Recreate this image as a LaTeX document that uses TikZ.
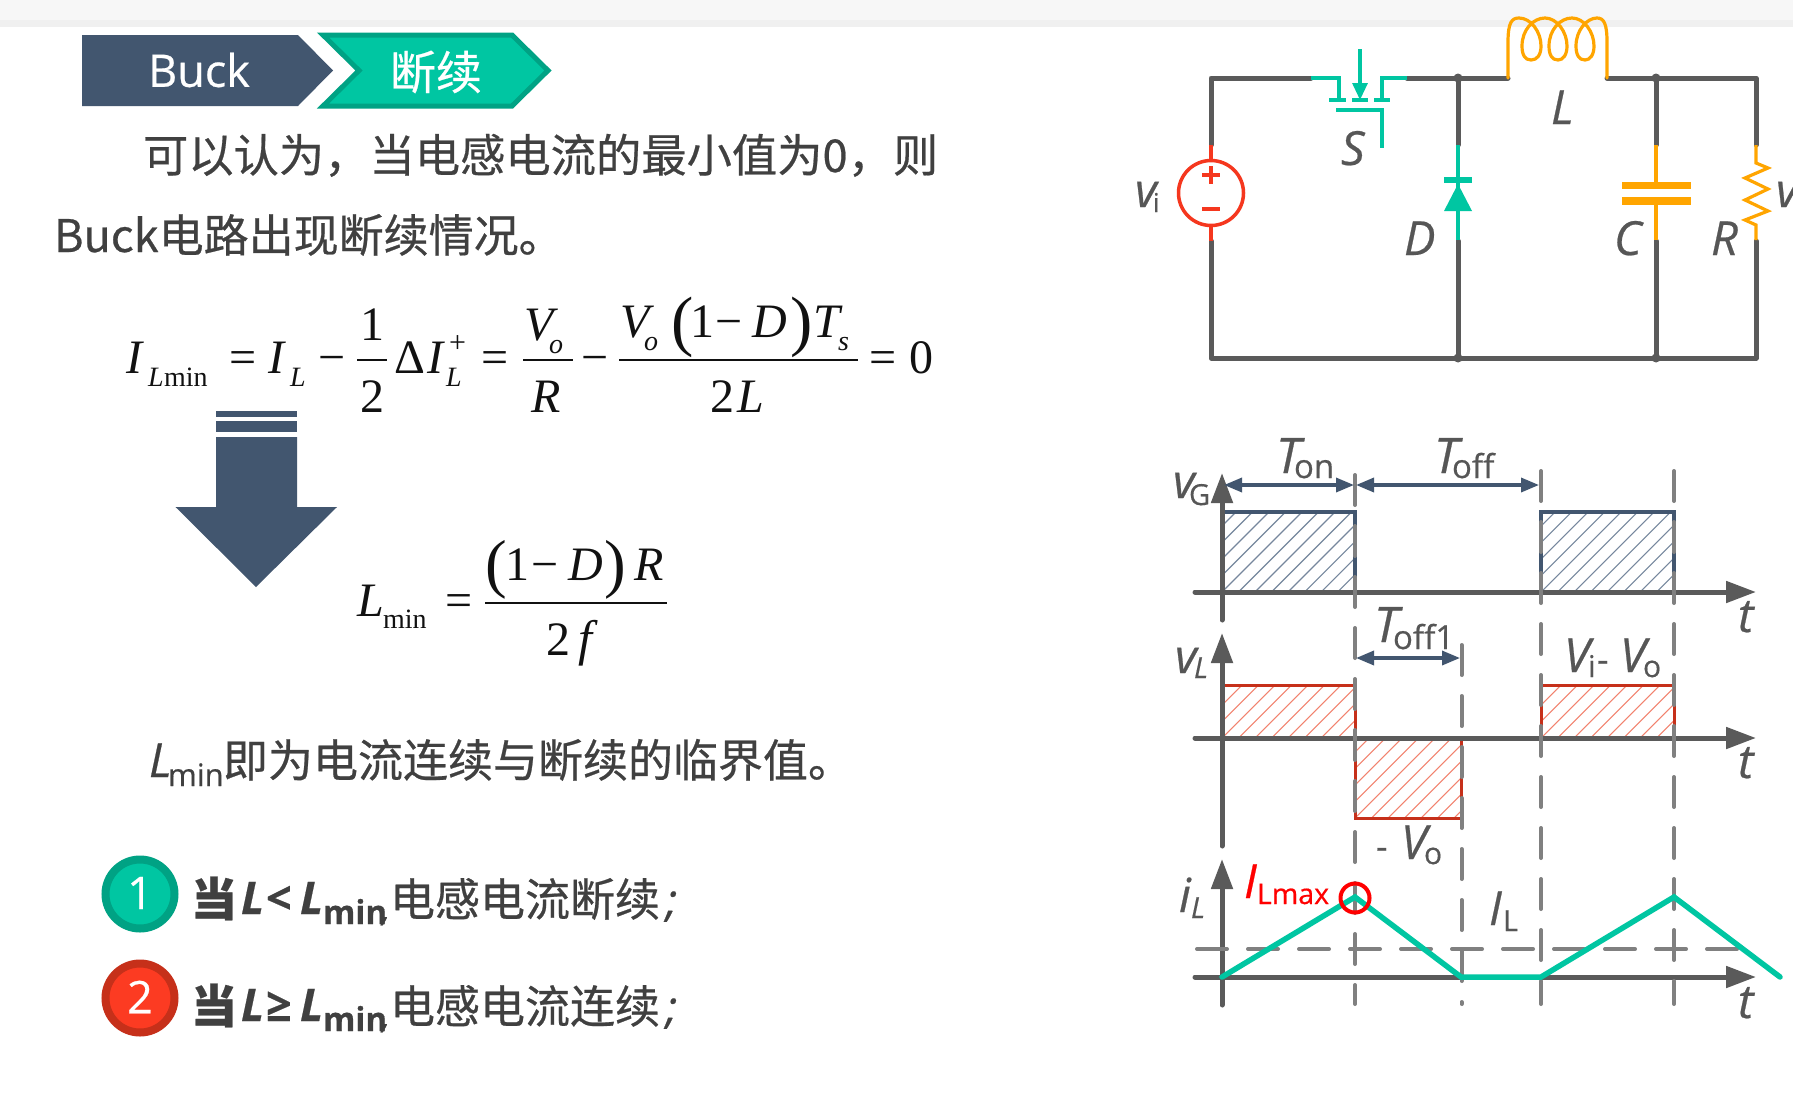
\documentclass[tikz,border=0pt]{standalone}
\usepackage{fontspec}
\usetikzlibrary{arrows.meta}
\setmainfont{Open Sans}
\newfontfamily\tms{Liberation Serif}
\newfontfamily\ltn[FakeBold=0.5]{Open Sans}
\newfontfamily\cjk[FakeBold=0.5]{Noto Sans CJK SC}
\newcommand\FS[1]{\fontsize{#1}{#1}\selectfont}
\newcommand\FT[1]{\tms\FS{#1}\color{ink}}
\newcommand\FTi[1]{\tms\itshape\FS{#1}\color{ink}}
\newcommand\FL[1]{\ltn\FS{#1}\color{lab}}
\newcommand\FLi[1]{\ltn\itshape\FS{#1}\color{lab}}
\newcommand\FC[1]{\cjk\FS{#1}\color{body}}
\newcommand\FB[1]{\ltn\bfseries\itshape\FS{#1}\color{body}}
\newcommand\TX[5]{\node[lbl] (#1) at (#2,#3) {#4 #5};}
\newcommand\HB[5]{%
  \begin{scope}
    \clip (#1,#2) rectangle (#3,#4);
    \foreach \k in {-12,...,14} {
      \draw[#5,line width=1.1pt] ({#1+16.5*\k},#4) -- ++(120,-120);
    }
  \end{scope}}
\definecolor{ink}{HTML}{111111}
\definecolor{lab}{HTML}{565656}
\definecolor{body}{HTML}{404040}
\definecolor{navy}{HTML}{42566F}
\definecolor{navyh}{HTML}{76879D}
\definecolor{tealc}{HTML}{00C6A2}
\definecolor{tealD}{HTML}{00A284}
\definecolor{wirec}{HTML}{5A5A5A}
\definecolor{gridc}{HTML}{808080}
\definecolor{srcred}{HTML}{F5371E}
\definecolor{redD}{HTML}{C6301A}
\definecolor{redB}{HTML}{FC3B22}
\definecolor{redh}{HTML}{F2826E}
\definecolor{org}{HTML}{FFA500}
\tikzset{
  lbl/.style={anchor=base west,inner sep=0pt,outer sep=0pt},
  gw/.style={wirec,line width=5pt,line cap=round,line join=round},
  tw/.style={tealc,line width=3.2pt},
  ow/.style={org,line width=3.2pt},
  rw/.style={srcred,line width=3.5pt},
  axisline/.style={wirec,line width=5pt,line cap=round,-{Triangle[length=30pt,width=21pt]}},
  spanline/.style={navy,line width=3.4pt,{Triangle[length=18pt,width=14pt]}-{Triangle[length=18pt,width=14pt]}},
  gridline/.style={gridc,line width=4pt,line cap=round,dash pattern=on 30pt off 21pt},
  jdot/.style={fill=wirec,draw=none},
}
\begin{document}
\begin{tikzpicture}[x=1pt,y=-1pt]
\useasboundingbox (0,0) rectangle (1793,1106);
\clip (0,0) rectangle (1793,1106);
\fill[white] (0,0) rectangle (1793,1106);
% window strip
\fill[black!3] (0,0) rectangle (1793,20);
\fill[black!6] (0,20) rectangle (1793,27);
% tags
\fill[navy] (82,35) -- (298,35) -- (333,70.5) -- (298,106) -- (82,106) -- cycle;
\draw[tealD,fill=tealc,line width=5pt,miter limit=10] (323,35) -- (512,35) -- (548,70.5) -- (512,106) -- (323,106) -- (359,70.5) -- cycle;
\node[inner sep=0pt,text=white,font=\ltn\FS{45}] (buck) at (199,70) {Buck};
\node[inner sep=0pt,text=white,font=\cjk\FS{46}] (dx) at (436,72) {断续};
% paragraph
\TX{p1}{143}{172}{\FC{45.3}}{可以认为，当电感电流的最小值为0，则}
\TX{p2}{54}{252}{\FC{45}}{Buck电路出现断续情况。}
% formula 1
\TX{a1}{126}{373}{\FTi{48}}{I}
\TX{a2}{148}{386}{\FTi{28}}{L}
\TX{a3}{164}{386}{\FT{28}}{min}
\TX{a4}{229}{373}{\FT{48}}{=}
\TX{a5}{268}{373}{\FTi{48}}{I}
\TX{a6}{290}{386}{\FTi{28}}{L}
\TX{a7}{318}{373}{\FT{48}}{−}
\TX{a8}{360}{340}{\FT{48}}{1}
\TX{a9}{360}{412}{\FT{48}}{2}
\TX{a10}{394}{373}{\FT{48}}{Δ}
\TX{a11}{427}{373}{\FTi{48}}{I}
\TX{a12}{449}{352}{\FT{30}}{+}
\TX{a13}{446}{386}{\FTi{28}}{L}
\TX{a14}{481}{373}{\FT{48}}{=}
\TX{a15}{524}{340}{\FTi{48}}{V}
\TX{a16}{549}{353}{\FTi{28}}{o}
\TX{a17}{531}{412}{\FTi{48}}{R}
\TX{a18}{581}{373}{\FT{48}}{−}
\TX{a19}{620}{337}{\FTi{48}}{V}
\TX{a20}{644}{350}{\FTi{28}}{o}
\TX{a21}{671}{343}{\FT{67}}{(}
\TX{a22}{690}{337}{\FT{48}}{1}
\TX{a23}{715}{337}{\FT{48}}{−}
\TX{a24}{752}{337}{\FTi{48}}{D}
\TX{a25}{790}{343}{\FT{67}}{)}
\TX{a26}{813}{337}{\FTi{48}}{T}
\TX{a27}{838}{350}{\FTi{28}}{s}
\TX{a28}{710}{412}{\FT{48}}{2}
\TX{a29}{737}{412}{\FTi{48}}{L}
\TX{a30}{869}{373}{\FT{48}}{=}
\TX{a31}{909}{373}{\FT{48}}{0}
\draw[ink,line width=2pt] (357,360) -- (387,360);
\draw[ink,line width=2pt] (523,360) -- (573,360);
\draw[ink,line width=2pt] (619,360) -- (858,360);
% arrow
\fill[navy] (216,411) rectangle (297,417);
\fill[navy] (216,421) rectangle (297,432);
\fill[navy] (216,437) -- (297,437) -- (297,507) -- (337,507) -- (256,587) -- (175.5,507) -- (216,507) -- cycle;
% formula 2
\TX{b1}{357}{616}{\FTi{48}}{L}
\TX{b2}{383}{628}{\FT{28}}{min}
\TX{b3}{445}{616}{\FT{48}}{=}
\TX{b4}{485}{585}{\FT{65}}{(}
\TX{b5}{505}{580}{\FT{48}}{1}
\TX{b6}{531}{580}{\FT{48}}{−}
\TX{b7}{568}{580}{\FTi{48}}{D}
\TX{b8}{604}{585}{\FT{65}}{)}
\TX{b9}{634}{580}{\FTi{48}}{R}
\TX{b10}{546}{655}{\FT{48}}{2}
\TX{b11}{578}{655}{\FTi{50}}{f}
\draw[ink,line width=2pt] (485,603) -- (667,603);
% Lmin sentence
\TX{c1}{149}{777}{\FLi{47}\color{body}}{L}
\TX{c2}{168}{786}{\FL{31}\color{body}}{min}
\TX{c3}{223}{777}{\FC{45}}{即为电流连续与断续的临界值。}
% bullets
\filldraw[tealD,fill=tealc,line width=8pt] (140,894) circle (34.5);
\node[inner sep=0pt,text=white,font=\ltn\FS{45}] (n1) at (140,893) {1};
\filldraw[redD,fill=redB,line width=8pt] (140,998) circle (34.5);
\node[inner sep=0pt,text=white,font=\ltn\FS{45}] (n2) at (140,997) {2};
\TX{d1}{191}{916}{\cjk\bfseries\FS{46}\color{body}}{当}
\TX{d2}{241}{914}{\FB{45}}{L}
\TX{d3}{266}{914}{\FB{45}}{\upshape<}
\TX{d4}{300}{914}{\FB{45}}{L}
\TX{d5}{323}{924}{\ltn\bfseries\FS{33}\color{body}}{min}
\TX{d6}{382}{921}{\FLi{33}\color{body}}{,}
\TX{d7}{390}{916}{\FC{45}}{电感电流断续}
\TX{d8}{666}{916}{\FLi{45}\color{body}}{;}
\TX{e1}{191}{1023}{\cjk\bfseries\FS{46}\color{body}}{当}
\TX{e2}{241}{1021}{\FB{45}}{L}
\TX{e3}{266}{1021}{\FB{45}}{\upshape≥}
\TX{e4}{300}{1021}{\FB{45}}{L}
\TX{e5}{323}{1031}{\ltn\bfseries\FS{33}\color{body}}{min}
\TX{e6}{382}{1028}{\FLi{33}\color{body}}{,}
\TX{e7}{390}{1023}{\FC{45}}{电感电流连续}
\TX{e8}{666}{1023}{\FLi{45}\color{body}}{;}
% ---------- circuit
\coordinate (TL) at (1211,78); \coordinate (BL) at (1211,358);
\coordinate (TR) at (1756,78); \coordinate (BR) at (1756,358);
\coordinate (TD) at (1458,78); \coordinate (BD) at (1458,358);
\coordinate (TC) at (1656,78); \coordinate (BC) at (1656,358);
\coordinate (sw1) at (1311,78); \coordinate (sw2) at (1407,78);
\coordinate (in1) at (1508,78); \coordinate (in2) at (1607,78);
\draw[gw] (1211,145) -- (TL) -- (sw1);
\draw[gw] (sw2) -- (in1);
\draw[gw] (in2) -- (TR) -- (1756,145);
\draw[gw] (1211,241) -- (BL) -- (BR) -- (1756,241);
\draw[gw] (TD) -- (1458,145);
\draw[gw] (1458,241) -- (BD);
\draw[gw] (TC) -- (1656,145);
\draw[gw] (1656,241) -- (BC);
\foreach \p in {TD,TC,BD,BC} \fill[jdot] (\p) circle (4.5);
% source
\draw[rw] (1211,145) -- (1211,160);
\draw[rw] (1211,226) -- (1211,241);
\draw[rw] (1211,193) circle (32.5);
\draw[srcred,line width=3.5pt] (1202,175) -- (1220,175) (1211,166) -- (1211,184);
\draw[srcred,line width=3.5pt] (1202,209) -- (1220,209);
\TX{vi}{1135}{207}{\FLi{47}}{v}
\TX{vi2}{1153}{212}{\FL{26}}{i}
% switch
\draw[tw] (sw1) -- (1339,78) -- (1339,100);
\draw[tw] (1329,100) -- (1346,100);
\draw[tw] (1352,100) -- (1368,100);
\draw[tw] (1374,100) -- (1390,100);
\draw[tw] (1382,100) -- (1382,78) -- (sw2);
\draw[tw] (1336,110) -- (1382,110) -- (1382,148);
\draw[tw,-{Triangle[length=17pt,width=15pt]}] (1360,49) -- (1360,100);
\TX{sl}{1341}{165}{\FLi{47}}{S}
% inductor
\draw[org,line width=3.2pt,line cap=round] (in1) -- (1508,42)
  .. controls (1508,22) and (1512,18) .. (1519,18)
  .. controls (1531,18) and (1541,32) .. (1541,46)
  .. controls (1541,55) and (1537,60) .. (1531,60)
  .. controls (1525,60) and (1522,55) .. (1522,46)
  .. controls (1522,30) and (1533,18) .. (1545,18)
  .. controls (1557,18) and (1567,32) .. (1567,46)
  .. controls (1567,55) and (1563,60) .. (1558,60)
  .. controls (1552,60) and (1549,55) .. (1549,46)
  .. controls (1549,30) and (1560,18) .. (1572,18)
  .. controls (1584,18) and (1594,32) .. (1594,46)
  .. controls (1594,55) and (1590,60) .. (1585,60)
  .. controls (1579,60) and (1576,55) .. (1576,46)
  .. controls (1576,30) and (1587,18) .. (1597,18)
  .. controls (1604,18) and (1607,24) .. (1607,42) -- (in2);
\TX{ll}{1551}{124}{\FLi{47}}{L}
% diode
\draw[tw] (1458,145) -- (1458,240);
\fill[tealc] (1444,177) rectangle (1472,183);
\fill[tealc] (1458,184) -- (1472,211) -- (1444,211) -- cycle;
\TX{dl}{1404}{255}{\FLi{47}}{D}
% capacitor
\draw[ow] (1656,145) -- (1656,185);
\draw[ow] (1656,200) -- (1656,240);
\fill[org] (1622,181.5) rectangle (1691,189);
\fill[org] (1622,197) rectangle (1691,205);
\TX{cl}{1614}{255}{\FLi{47}}{C}
% resistor
\draw[ow,line join=miter] (1756,145) -- (1756,163) -- (1768,168) -- (1745,178) -- (1768,189) -- (1745,200) -- (1768,211) -- (1745,220) -- (1756,225) -- (1756,240);
\TX{rl}{1711}{255}{\FLi{47}}{R}
\TX{vo}{1776}{207}{\FLi{47}}{v}
% ---------- plots
\HB{1222}{512}{1355}{592}{navyh}
\HB{1541}{512}{1674}{592}{navyh}
\draw[navy,line width=3.6pt] (1222,592) -- (1222,512) -- (1355,512) -- (1355,592);
\draw[navy,line width=3.6pt] (1541,592) -- (1541,512) -- (1674,512) -- (1674,592);
\HB{1222}{685}{1355}{738}{redh}
\HB{1541}{685}{1674}{738}{redh}
\HB{1355}{738}{1461}{818}{redh}
\draw[redD,line width=3pt] (1222,738) -- (1222,685) -- (1355,685) -- (1355,738);
\draw[redD,line width=3pt] (1541,738) -- (1541,685) -- (1674,685) -- (1674,738);
\draw[redD,line width=3pt] (1355,738) -- (1355,818) -- (1461,818) -- (1461,738);
% axes
\coordinate (y1a) at (1222,620); \coordinate (y1b) at (1222,473);
\coordinate (y2a) at (1222,846); \coordinate (y2b) at (1222,633);
\coordinate (y3a) at (1222,1005); \coordinate (y3b) at (1222,859);
\coordinate (x1a) at (1195,592); \coordinate (x1b) at (1756,592);
\coordinate (x2a) at (1195,738); \coordinate (x2b) at (1756,738);
\coordinate (x3a) at (1195,977); \coordinate (x3b) at (1756,977);
\draw[axisline] (y1a) -- (y1b);
\draw[axisline] (y2a) -- (y2b);
\draw[axisline] (y3a) -- (y3b);
\draw[axisline] (x1a) -- (x1b);
\draw[axisline] (x2a) -- (x2b);
\draw[axisline] (x3a) -- (x3b);
% grid
\draw[gridline] (1355,475) -- (1355,1004);
\draw[gridline] (1541,471) -- (1541,1004);
\draw[gridline] (1674,471) -- (1674,1004);
\draw[gridline] (1461.5,645) -- (1461.5,1004);
\draw[gridline] (1197,949) -- (1750,949);
% spans
\coordinate (s1) at (1224,485); \coordinate (s2) at (1354,485);
\coordinate (s3) at (1356,485); \coordinate (s4) at (1539,485);
\coordinate (s5) at (1356,658); \coordinate (s6) at (1460,658);
\draw[spanline] (s1) -- (s2);
\draw[spanline] (s3) -- (s4);
\draw[spanline] (s5) -- (s6);
% current
\draw[tealc,line width=5.5pt,line join=miter,line cap=round] (1222,977) -- (1355,897) -- (1461,977) -- (1541,977) -- (1674,897) -- (1780,977);
\draw[red,line width=4pt] (1355,898) circle (14.5);
% plot labels
\TX{g1}{1173}{498}{\FLi{47}}{v}
\TX{g2}{1189}{505}{\FL{29}}{G}
\TX{t1}{1276}{473}{\FLi{49}}{T}
\TX{t2}{1294}{478}{\FL{33}}{on}
\TX{t3}{1434}{473}{\FLi{49}}{T}
\TX{t4}{1452}{478}{\FL{33}}{off}
\TX{tt1}{1738}{632}{\FLi{47}}{t}
\TX{h1}{1175}{673}{\FLi{47}}{v}
\TX{h2}{1194}{678}{\FLi{29}}{L}
\TX{t5}{1374}{642}{\FLi{49}}{T}
\TX{t6}{1393}{649}{\FL{33}}{off1}
\TX{v1}{1564}{672}{\FLi{47}}{V}
\TX{v2}{1588}{677}{\FL{30}}{i}
\TX{v3}{1597}{672}{\FL{36}}{-}
\TX{v4}{1620}{672}{\FLi{47}}{V}
\TX{v5}{1643}{677}{\FL{30}}{o}
\TX{tt2}{1738}{778}{\FLi{47}}{t}
\TX{w1}{1376}{859}{\FL{36}}{-}
\TX{w2}{1401}{859}{\FLi{47}}{V}
\TX{w3}{1424}{864}{\FL{30}}{o}
\TX{i1}{1179}{912}{\FLi{47}}{i}
\TX{i2}{1191}{918}{\FLi{29}}{L}
\TX{m1}{1244}{898}{\ltn\itshape\FS{47}\color{red}}{I}
\TX{m2}{1257}{904}{\ltn\FS{28.5}\color{red}}{Lmax}
\TX{j1}{1489}{925}{\FLi{47}}{I}
\TX{j2}{1503}{931}{\FL{29}}{L}
\TX{tt3}{1738}{1018}{\FLi{47}}{t}
\end{tikzpicture}
\end{document}
